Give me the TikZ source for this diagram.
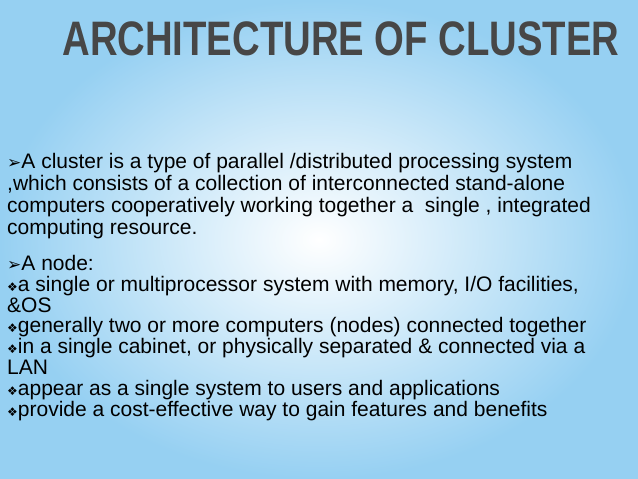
\documentclass[tikz,border=0pt]{standalone}
\usepackage{fontspec}
\setmainfont{Liberation Sans}
\newfontfamily\symf{DejaVu Sans}
\usetikzlibrary{shadings}
\definecolor{sky}{RGB}{150,208,242}
\begin{document}
\begin{tikzpicture}[x=1pt,y=-1pt,
  line/.style={anchor=base west,inner sep=0pt,font=\fontsize{21}{22}\selectfont,text=black}]
\useasboundingbox (0,0) rectangle (638,479);
\shade[inner color=white,outer color=sky] (0,0) rectangle (638,479);
\node[anchor=base,inner sep=0pt,font=\fontsize{44}{44}\selectfont\bfseries,text=black!72] (title) at (341,56) {\scalebox{0.87}[1.1]{ARCHITECTURE OF CLUSTER}};
\newcommand\ab{{\symf\fontsize{17}{17}\selectfont ➢}}
\newcommand\db{{\symf\fontsize{12}{12}\selectfont ❖}}
\node[line] (l1) at (7,168) {\ab A cluster is a type of parallel /distributed processing system};
\node[line] (l2) at (7,190) {,which consists of a collection of interconnected stand-alone};
\node[line] (l3) at (7,212) {computers cooperatively working together a \ single , integrated};
\node[line] (l4) at (7,234) {computing resource.};
\node[line] (l5) at (7,270) {\ab A node:};
\node[line] (l6) at (7,291) {\db a single or multiprocessor system with memory, I/O facilities,};
\node[line] (l7) at (7,312) {\&OS};
\node[line] (l8) at (7,332) {\db generally two or more computers (nodes) connected together};
\node[line] (l9) at (7,353) {\db in a single cabinet, or physically separated \& connected via a};
\node[line] (l10) at (7,374) {LAN};
\node[line] (l11) at (7,395) {\db appear as a single system to users and applications};
\node[line] (l12) at (7,416) {\db provide a cost-effective way to gain features and benefits};
\end{tikzpicture}
\end{document}
